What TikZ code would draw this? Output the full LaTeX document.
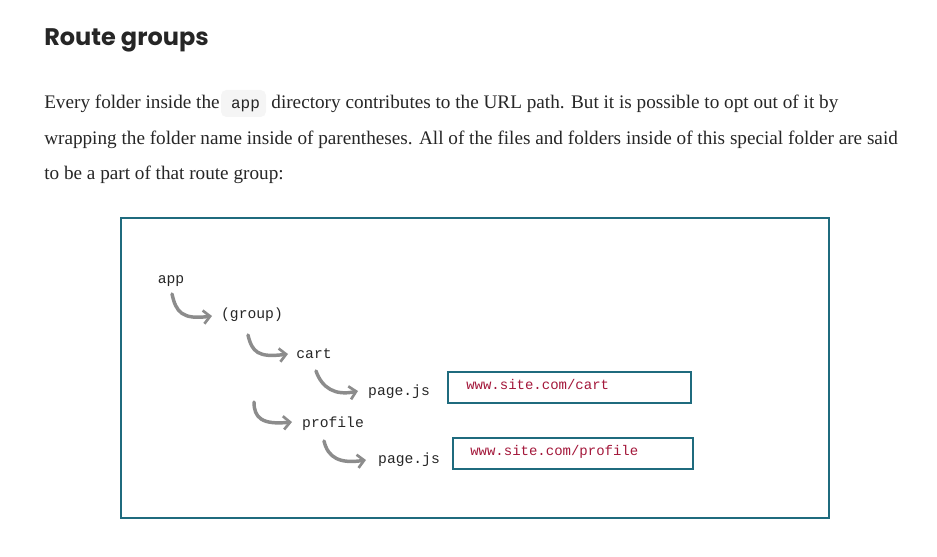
\documentclass[tikz,border=0pt]{standalone}
\usepackage{fontspec}
\setmainfont{Liberation Serif}
\newfontfamily\titlefont{Poppins}
\setmonofont{Liberation Mono}
\usetikzlibrary{arrows.meta}
\definecolor{teal1}{HTML}{1F6B7E}
\definecolor{url}{HTML}{A3173A}
\tikzset{
  px/.style={x=0.75pt,y=-0.75pt},
  para/.style={anchor=base west,inner sep=0,font=\fontsize{14.4}{16}\selectfont,text=black!85},
  fname/.style={inner sep=1pt,font=\ttfamily\fontsize{11}{12}\selectfont,text=black!85},
  urlbox/.style={draw=teal1,line width=1.8pt,minimum height=23pt,anchor=north west},
  urltext/.style={anchor=west,font=\ttfamily\fontsize{10.5}{12}\selectfont,text=url,inner sep=0},
  curl/.style={draw=black!45,line width=2.6pt,line cap=round,-{Straight Barb[length=5pt,width=10pt,line width=2pt]}},
}
\begin{document}
\begin{tikzpicture}[px]
\useasboundingbox (0,0) rectangle (937,556);
\node[anchor=base west,inner sep=0,font=\titlefont\bfseries\fontsize{18}{22}\selectfont,text=black!85] (title) at (44,46) {Route groups};
\fill[black!4,rounded corners=4pt] (221,90) rectangle (266,117);
\node[para] (l1) at (44,109) {Every folder inside the \hspace{5pt}{\ttfamily\fontsize{12}{14}\selectfont app}\hspace{5pt} directory contributes to the URL path. But it is possible to opt out of it by};
\node[para] (l2) at (44,144) {wrapping the folder name inside of parentheses. All of the files and folders inside of this special folder are said};
\node[para] (l3) at (44,179) {to be a part of that route group:};
\draw[teal1,line width=2pt] (121,218) rectangle (829,518);
\node[fname] (app) at (171,281) {app};
\node[fname] (group) at (252,315) {(group)};
\node[fname] (cart) at (314,354) {cart};
\node[fname] (page1) at (399,392) {page.js};
\node[fname] (profile) at (333,424) {profile};
\node[fname] (page2) at (409,460) {page.js};
\node[urlbox,minimum width=182pt] (u1) at (447,371) {};
\node[urltext] (t1) at (466,384) {www.site.com/cart};
\node[urlbox,minimum width=180pt] (u2) at (452,437) {};
\node[urltext] (t2) at (470,452) {www.site.com/profile};
\coordinate (s1) at (172,294); \coordinate (e1) at (212,316);
\coordinate (s2) at (248,335); \coordinate (e2) at (288,354);
\coordinate (s3) at (316,371); \coordinate (e3) at (358,391);
\coordinate (s4) at (254,402); \coordinate (e4) at (292,422);
\coordinate (s5) at (324,441); \coordinate (e5) at (366,460);
\draw[curl] (s1) .. controls (176,312) and (182,320) .. (e1);
\draw[curl] (s2) .. controls (252,352) and (258,358) .. (e2);
\draw[curl] (s3) .. controls (322,388) and (335,396) .. (e3);
\draw[curl] (s4) .. controls (254,418) and (262,425) .. (e4);
\draw[curl] (s5) .. controls (328,458) and (340,464) .. (e5);
\end{tikzpicture}
\end{document}
